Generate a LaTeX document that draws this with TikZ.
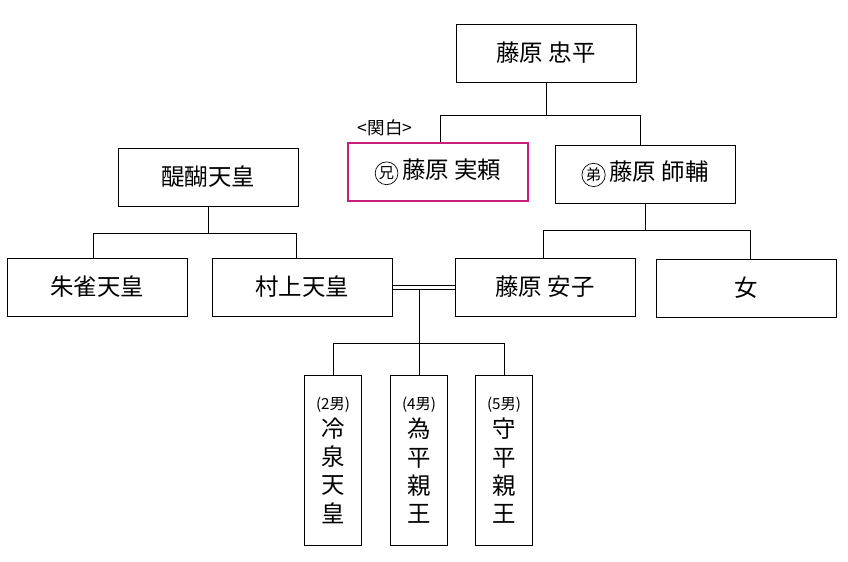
\documentclass[tikz,border=0pt]{standalone}
\usepackage{fontspec}
\setmainfont{Noto Sans CJK JP}
\usepackage{xcolor}
\usetikzlibrary{positioning}
\definecolor{kanpaku}{RGB}{200,30,120}
\tikzstyle{person} = [rectangle, minimum width=5.4cm, minimum height=1.75cm, text centered, draw=black, font=\fontsize{20}{24}\selectfont]
\tikzstyle{child} = [rectangle, minimum width=1.7cm, minimum height=5.1cm, text centered, align=center, draw=black, font=\fontsize{20}{24}\selectfont, anchor=north]
\tikzstyle{line} = [thin]
\newcommand{\maru}[1]{\tikz[baseline=(m.base)]\node[draw=black,circle,line width=0.6pt,minimum width=0pt,minimum height=0pt,inner sep=0.8pt,font=\fontsize{13}{13}\selectfont](m){#1};\,}

\begin{document}
\begin{tikzpicture}[x=0.03cm, y=-0.03cm]
        \useasboundingbox (0,0) rectangle (848,561);
        \node (tadahira) [person] at (546,53) {藤原 忠平};
        \node (saneyori) [person, draw=kanpaku, line width=1.2pt] at (438,172) {\maru{兄}藤原 実頼};
        \node (morosuke) [person] at (645,174) {\maru{弟}藤原 師輔};
        \node (daigo) [person] at (208,177) {醍醐天皇};
        \node (suzaku) [person] at (97,287) {朱雀天皇};
        \node (murakami) [person] at (302,287) {村上天皇};
        \node (anshi) [person] at (545,287) {藤原 安子};
        \node (musume) [person] at (746,288) {女};
        \node (reizei) [child] at (333,375) {\fontsize{13}{16}\selectfont (2男)\\冷\\泉\\天\\皇};
        \node (tamehira) [child] at (419,375) {\fontsize{13}{16}\selectfont (4男)\\為\\平\\親\\王};
        \node (morihira) [child] at (504,375) {\fontsize{13}{16}\selectfont (5男)\\守\\平\\親\\王};
        \node (kanpakulabel) [font=\fontsize{15}{18}\selectfont] at (385,128) {<関白>};

        \coordinate (tj) at (546,115);
        \coordinate (dj) at (208,233);
        \coordinate (mj) at (645,230);
        \coordinate (fj) at (419,288);
        \coordinate (cj) at (419,343);

        \draw [line] (tadahira) -- (tj);
        \draw [line] (tj) -| (saneyori.north -| 440,0);
        \draw [line] (tj) -| (morosuke.north -| 640,0);
        \draw [line] (daigo) -- (dj);
        \draw [line] (dj) -| (suzaku.north -| 93,0);
        \draw [line] (dj) -| (murakami.north -| 296,0);
        \draw [line] (morosuke) -- (mj);
        \draw [line] (mj) -| (anshi.north -| 543,0);
        \draw [line] (mj) -| (musume.north -| 750,0);
        \draw [line] ([yshift=1.5pt]murakami.east) -- ([yshift=1.5pt]anshi.west);
        \draw [line] ([yshift=-1.5pt]murakami.east) -- ([yshift=-1.5pt]anshi.west);
        \draw [line] ([yshift=-1.5pt]fj) -- (cj);
        \draw [line] (cj) -| (reizei);
        \draw [line] (cj) -- (tamehira);
        \draw [line] (cj) -| (morihira);
    \end{tikzpicture}
\end{document}
